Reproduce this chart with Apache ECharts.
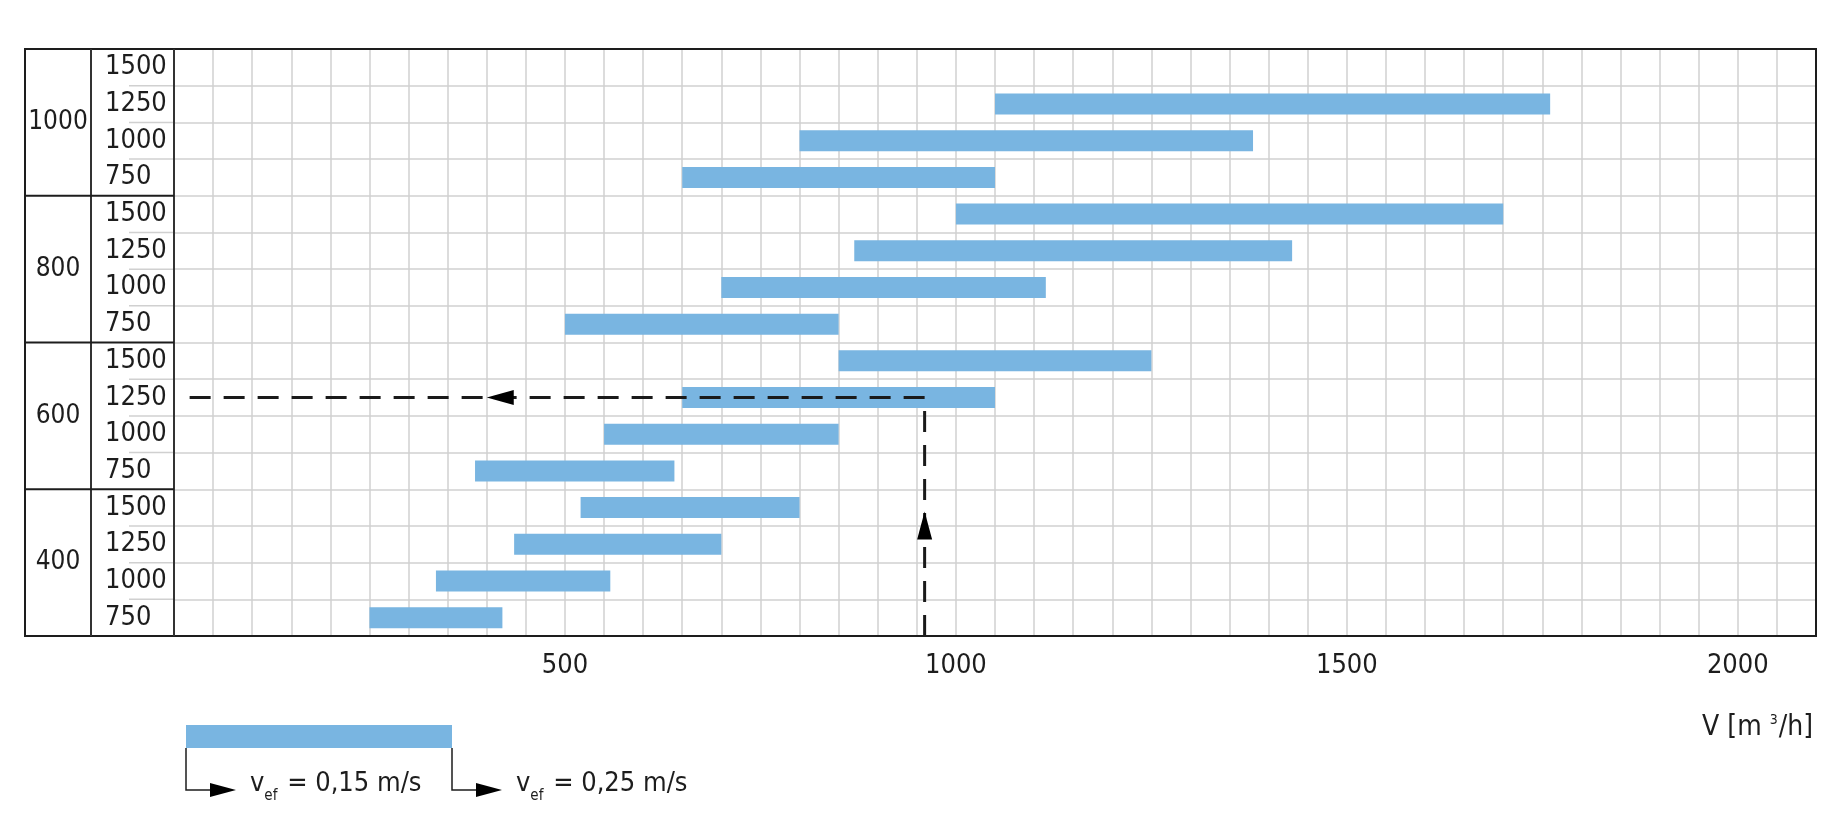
<!DOCTYPE html>
<html>
<head>
<meta charset="utf-8">
<title>Volumenstrom</title>
<script src="https://cdn.jsdelivr.net/npm/echarts@6/dist/echarts.min.js"></script>
<style>
  html, body { margin: 0; padding: 0; background: #fff; }
  #chart { width: 1833px; height: 833px; }
</style>
</head>
<body>
<div id="chart"></div>
<script>
// nominal sizes: outer group / inner row
const groups = ['1000', '800', '600', '400'];
const sizes = ['1500', '1250', '1000', '750'];
const rows = [];
groups.forEach(g => sizes.forEach(s => rows.push(g + '-' + s)));

// V [m3/h] at v_ef = 0,15 m/s (low) and 0,25 m/s (high), top row first
const flowLow  = ['-', 1050, 800, 650, 1000, 870, 700, 500, 850, 650, 550, 385, 520, 435, 335, 250];
const flowHigh = ['-', 1760, 1380, 1050, 1700, 1430, 1115, 850, 1250, 1050, 850, 640, 800, 700, 558, 420];
const xTicks = [500, 1000, 1500, 2000];

// read-off example
const exampleFlow = 960;
const exampleRow = '600-1250';
const exampleLineEnd = 15;
const exampleArrowX = 400;
const exampleArrowRow = '400-1500';

const FONT = '"Liberation Sans Narrow", "DejaVu Sans Condensed", "Liberation Sans", sans-serif';
const BLUE = '#79b5e1';
const GRIDC = '#d0d0d0';
const INK = '#1d1d1d';

// plot box
const G = { left: 174, top: 49, width: 1642, height: 587 };
const boxLeft = 25, col1 = 91;
const rowH = G.height / rows.length;
const groupH = G.height / groups.length;

const spans = flowHigh.map((h, i) => (h === '-' ? '-' : h - flowLow[i]));

const graphic = [];
// outer frame and label columns
graphic.push({ type: 'rect', z: 100, shape: { x: boxLeft, y: G.top, width: G.left + G.width - boxLeft, height: G.height },
  style: { fill: 'none', stroke: INK, lineWidth: 2 } });
[col1, G.left].forEach(x => graphic.push({ type: 'line', z: 100,
  shape: { x1: x, y1: G.top, x2: x, y2: G.top + G.height }, style: { stroke: '#333', lineWidth: 2 } }));
for (let k = 1; k < groups.length; k++) {
  const y = G.top + k * groupH;
  graphic.push({ type: 'line', z: 100, shape: { x1: boxLeft, y1: y, x2: G.left, y2: y }, style: { stroke: INK, lineWidth: 2 } });
}
for (let i = 1; i < rows.length; i++) {
  if (i % sizes.length === 0) continue;
  const y = G.top + i * rowH;
  graphic.push({ type: 'line', z: 90, shape: { x1: 129, y1: y, x2: G.left, y2: y }, style: { stroke: GRIDC, lineWidth: 1.5 } });
}

// legend
const lg = { x1: 186, x2: 452, y: 725, h: 23, yArrow: 790 };
graphic.push({ type: 'rect', shape: { x: lg.x1, y: lg.y, width: lg.x2 - lg.x1, height: lg.h }, style: { fill: BLUE } });
[[lg.x1, '0,15'], [lg.x2, '0,25']].forEach(([x, v]) => {
  graphic.push({ type: 'polyline', shape: { points: [[x, lg.y + lg.h], [x, lg.yArrow], [x + 26, lg.yArrow]] },
    style: { stroke: INK, lineWidth: 1.5, fill: 'none' } });
  graphic.push({ type: 'polygon', shape: { points: [[x + 24, lg.yArrow - 7], [x + 50, lg.yArrow], [x + 24, lg.yArrow + 7]] },
    style: { fill: '#000' } });
  graphic.push({ type: 'text', left: x + 64, top: lg.yArrow - 20,
    style: { text: '{v|v}{s|ef}{t| = ' + v + ' m/s}', fontFamily: FONT,
      rich: {
        v: { fontFamily: FONT, fontSize: 27, lineHeight: 40, fill: INK },
        s: { fontFamily: FONT, fontSize: 15, lineHeight: 15, fill: INK, verticalAlign: 'bottom', padding: [0, 2, 0, 0] },
        t: { fontFamily: FONT, fontSize: 27, lineHeight: 40, fill: INK }
      } } });
});

// axis title
graphic.push({ type: 'text', right: 20, top: 708,
  style: { text: '{a|V [m }{s|3}{a|/h]}', fontFamily: FONT,
    rich: {
      a: { fontFamily: FONT, fontSize: 28, lineHeight: 40, fill: INK },
      s: { fontFamily: FONT, fontSize: 14, lineHeight: 14, fill: INK, verticalAlign: 'top', padding: [5, 1, 0, 0] }
    } } });

const chart = echarts.init(document.getElementById('chart'));
chart.setOption({
  backgroundColor: '#fff',
  animation: false,
  grid: { left: G.left, top: G.top, width: G.width, height: G.height, containLabel: false },
  xAxis: {
    type: 'value', min: 0, max: 2100, interval: 50,
    axisLine: { show: false }, axisTick: { show: false },
    splitLine: { show: true, lineStyle: { color: GRIDC, width: 1.5 } },
    axisLabel: {
      margin: 16, fontFamily: FONT, fontSize: 27, color: INK,
      formatter: v => (xTicks.includes(v) ? String(v) : '')
    }
  },
  yAxis: [{
    type: 'category', data: rows, inverse: true,
    axisLine: { show: false }, axisTick: { show: false },
    splitLine: { show: true, lineStyle: { color: GRIDC, width: 1.5 } },
    axisLabel: { interval: 0, align: 'left', margin: 69, fontFamily: FONT, fontSize: 27, color: INK,
      formatter: v => v.split('-')[1] }
  }, {
    type: 'category', data: groups, inverse: true, position: 'left',
    axisLine: { show: false }, axisTick: { show: false }, splitLine: { show: false },
    axisLabel: { interval: 0, align: 'center', margin: 116, fontFamily: FONT, fontSize: 26, color: INK }
  }],
  series: [{
    name: 'base', type: 'bar', stack: 'range', silent: true, barWidth: 21,
    itemStyle: { color: 'transparent' }, data: flowLow
  }, {
    name: 'range', type: 'bar', stack: 'range', barWidth: 21,
    itemStyle: { color: BLUE }, data: spans
  }, {
    name: 'example', type: 'custom', silent: true, z: 10,
    data: [[exampleFlow, rows.indexOf(exampleRow)]],
    renderItem(params, api) {
      const p = api.coord([api.value(0), api.value(1)]);
      const end = api.coord([exampleLineEnd, api.value(1)]);
      const aL = api.coord([exampleArrowX, api.value(1)]);
      const aU = api.coord([exampleFlow, rows.indexOf(exampleArrowRow)]);
      const bottom = params.coordSys.y + params.coordSys.height;
      const dash = { stroke: '#1a1a1a', lineWidth: 3, lineDash: [21, 13] };
      return { type: 'group', children: [
        { type: 'line', shape: { x1: p[0], y1: p[1], x2: end[0], y2: end[1] }, style: dash },
        { type: 'line', shape: { x1: p[0], y1: bottom, x2: p[0], y2: p[1] + 10 }, style: dash },
        { type: 'polygon', shape: { points: [[aL[0], aL[1]], [aL[0] + 27, aL[1] - 7.5], [aL[0] + 27, aL[1] + 7.5]] }, style: { fill: '#000' } },
        { type: 'polygon', shape: { points: [[aU[0], aU[1] + 4], [aU[0] - 7.5, aU[1] + 32], [aU[0] + 7.5, aU[1] + 32]] }, style: { fill: '#000' } }
      ] };
    }
  }],
  graphic: graphic
});
</script>
</body>
</html>
